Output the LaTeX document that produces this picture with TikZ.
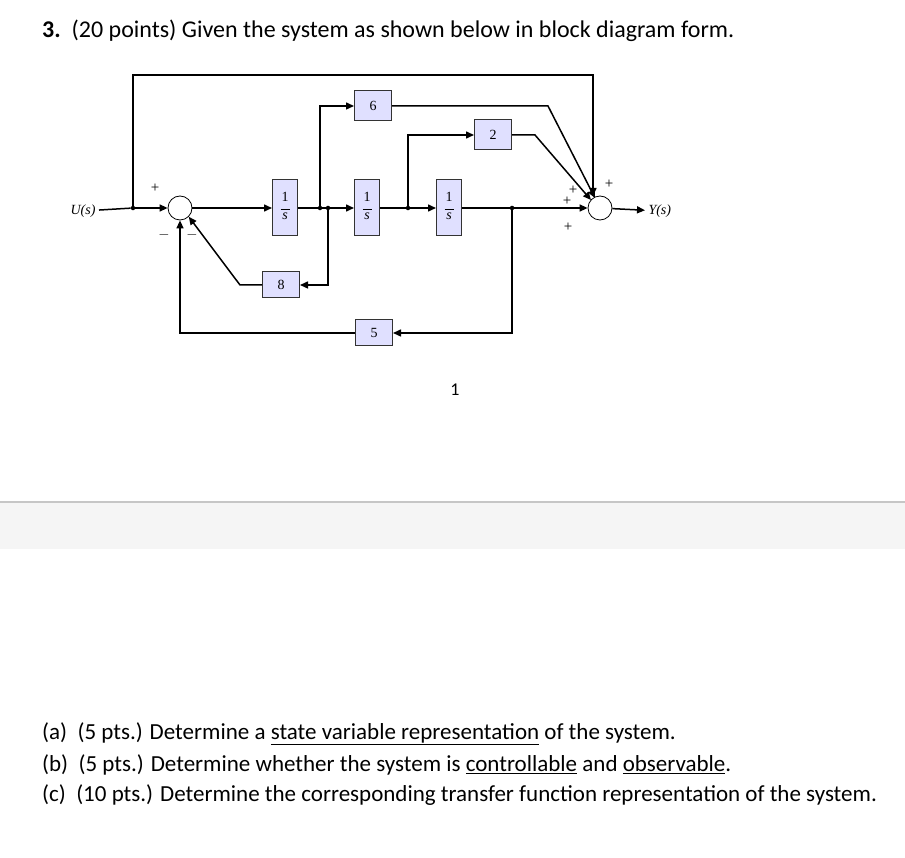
\documentclass[tikz,border=0pt]{standalone}
\usepackage{fontspec}
\setmainfont{Carlito}
\newfontfamily\tms{Liberation Serif}
\usetikzlibrary{arrows.meta}
\begin{document}
\begin{tikzpicture}[x=1pt,y=-1pt,
 blk/.style={draw=black!80,line width=1pt,fill=blue!12!white,minimum width=25pt,font=\tms\fontsize{14}{14}\selectfont,inner sep=1pt},
 wide/.style={minimum width=37pt,minimum height=30pt},
 tall/.style={minimum height=56pt},
 sum/.style={draw,circle,minimum size=24pt,inner sep=0pt,line width=0.8pt,fill=white},
 ln/.style={line width=1.5pt},
 ar/.style={ln,-{Triangle[length=8pt,width=7pt]}},
 dot/.style={circle,fill,inner sep=1.6pt},
 sg/.style={font=\tms\fontsize{15}{15}\selectfont,inner sep=0pt}]
\useasboundingbox (0,0) rectangle (905,858);
\fill[gray!8!white] (0,501) rectangle (905,549);
\draw[gray!45,line width=2pt] (0,502) -- (905,502);
\node[anchor=west,font=\fontsize{24}{28}\selectfont,inner sep=0pt] (title) at (42,31) {\textbf{3.}\ \ (20 points) Given the system as shown below in block diagram form.};
\node[sum] (s1) at (180,208) {};
\node[sum] (s2) at (600,208) {};
\newcommand\fr{\tms\fontsize{14}{14}\selectfont\begin{tabular}{@{}c@{}}1\\[-6pt]\rule{9pt}{0.5pt}\\[-4pt]\itshape s\end{tabular}}
\node[blk,tall] (i1) at (285,208) {\fr};
\node[blk,tall] (i2) at (367,208) {\fr};
\node[blk,tall] (i3) at (449,208) {\fr};
\node[blk,wide] (g6) at (373,106) {6};
\node[blk,wide] (g2) at (493,135) {2};
\node[blk,wide,minimum height=26pt] (g8) at (281,285) {8};
\node[blk,wide,minimum height=26pt] (g5) at (374,333) {5};
\node[font=\tms\itshape\fontsize{14}{14}\selectfont,anchor=east] (u) at (99,211) {U(s)};
\node[font=\tms\itshape\fontsize{14}{14}\selectfont,anchor=west] (y) at (645,211) {Y(s)};
\node[dot] (d0) at (133,208) {};
\node[dot] (d1) at (320,208) {};
\node[dot] (d2) at (328,208) {};
\node[dot] (d3) at (408,208) {};
\node[dot] (d4) at (512,208) {};
\coordinate (t1) at (133,75); \coordinate (t2) at (593,75);
\draw[ln] (u) -- (d0);
\draw[ar] (d0) -- (s1);
\draw[ar] (s1) -- (i1);
\draw[ln] (i1) -- (d1);
\draw[ar] (d1) -- (i2);
\draw[ln] (i2) -- (d3);
\draw[ar] (d3) -- (i3);
\draw[ar] (i3) -- (s2);
\draw[ar] (s2) -- (y);
\draw[ar] (d0) -- (t1) -- (t2) -- (593,196);
\draw[ar] (d1) |- (g6);
\draw[ar] (d3) |- (g2);
\draw[ar] (g6.east) -- (548,106) -- (595,198);
\draw[ar] (g2.east) -- (535,135) -- (591,200);
\draw[ar] (d2) |- (g8);
\draw[ar] (g8.west) -- (240,285) -- (s1.south east);
\draw[ar] (d4) |- (g5);
\draw[ar] (g5.west) -| (s1.south);
\node[sg] at (155,188) {+};
\node[sg] at (164,235) {$-$};
\node[sg] at (192,235) {$-$};
\node[sg] at (573,190) {+};
\node[sg] at (567,201) {+};
\node[sg] at (568,227) {+};
\node[sg] at (609,184) {+};
\node[font=\fontsize{18}{20}\selectfont] (one) at (455,390) {1};
\begin{scope}[every node/.style={anchor=west,font=\fontsize{23}{28}\selectfont,inner sep=0pt}]
\node (a) at (42,734) {(a)\ \ (5 pts.) Determine a \underline{state variable representation} of the system.};
\node (b) at (42,765) {(b)\ \ (5 pts.) Determine whether the system is \underline{controllable} and \underline{observable}.};
\node (c) at (42,795) {(c)\ \ (10 pts.) Determine the corresponding transfer function representation of the system.};
\end{scope}
\end{tikzpicture}
\end{document}
